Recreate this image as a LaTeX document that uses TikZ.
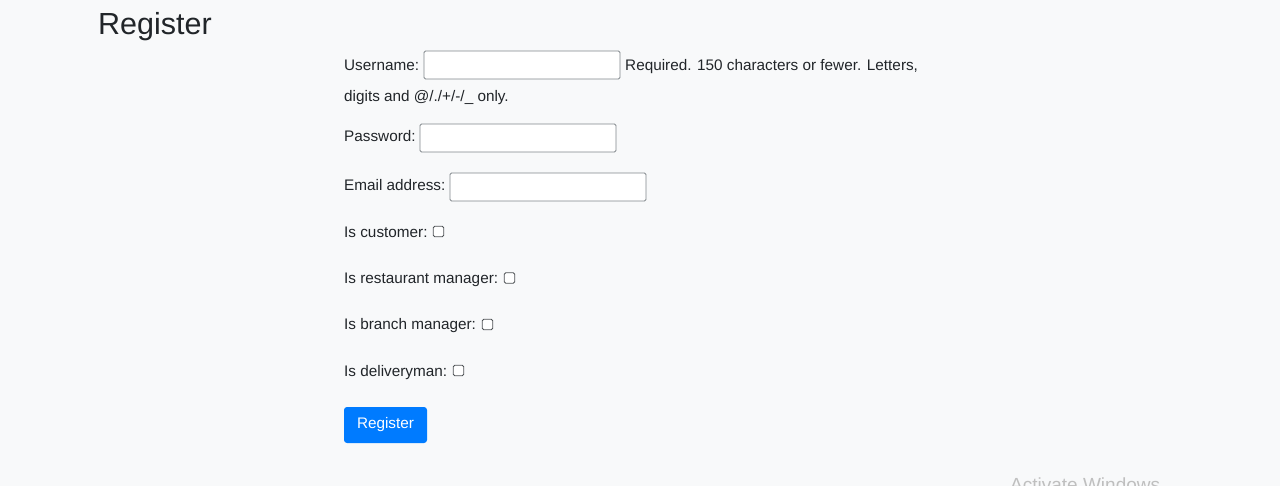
\documentclass[tikz,border=0pt]{standalone}
\usepackage{fontspec}
\setmainfont{Liberation Sans}
\definecolor{bg}{HTML}{F8F9FA}
\definecolor{txt}{HTML}{212529}
\definecolor{boxc}{HTML}{80868B}
\definecolor{btn}{HTML}{007BFF}
\begin{document}
\begin{tikzpicture}[x=1pt,y=-1pt,
  lbl/.style={anchor=base west,inner sep=0pt,text=txt,font=\fontsize{15.3}{18}\selectfont},
  inbox/.style={draw=boxc,fill=white,rounded corners=1.5pt,line width=0.9pt,minimum width=196pt,minimum height=28pt,inner sep=0pt},
  cbox/.style={draw=txt!80,fill=white,rounded corners=1.5pt,line width=0.8pt,minimum size=10.5pt,inner sep=0pt}]
\fill[bg] (0,0) rectangle (1280,486);
\useasboundingbox (0,0) rectangle (1280,486);
\node[lbl,font=\fontsize{30.5}{33}\selectfont] (title) at (98,35) {Register};
\node[lbl] (lu) at (344,71) {Username:};
\node[inbox] (iu) at (522,65) {};
\node[lbl] (hu) at (625,71) {Required. 150 characters or fewer. Letters,};
\node[lbl] (hu2) at (344,102) {digits and @/./+/-/\_ only.};
\node[lbl] (lp) at (344,142) {Password:};
\node[inbox] (ip) at (518,138) {};
\node[lbl] (le) at (344,191) {Email address:};
\node[inbox] (ie) at (548,187) {};
\node[lbl] (lc) at (344,238) {Is customer:};
\node[cbox] (cc) at (438.5,231.5) {};
\node[lbl] (lr) at (344,284) {Is restaurant manager:};
\node[cbox] (cr) at (509.5,278) {};
\node[lbl] (lb) at (344,330) {Is branch manager:};
\node[cbox] (cb) at (487.5,324.5) {};
\node[lbl] (ld) at (344,377) {Is deliveryman:};
\node[cbox] (cd) at (458.5,370.5) {};
\node[fill=btn,rounded corners=3pt,minimum width=83pt,minimum height=36pt,inner sep=0pt,text=white,font=\fontsize{15.3}{18}\selectfont] (btn) at (385.5,425) {Register};
\node[lbl,text=black!25,font=\fontsize{19}{22}\selectfont] (win) at (1010,491) {Activate Windows};
\end{tikzpicture}
\end{document}
